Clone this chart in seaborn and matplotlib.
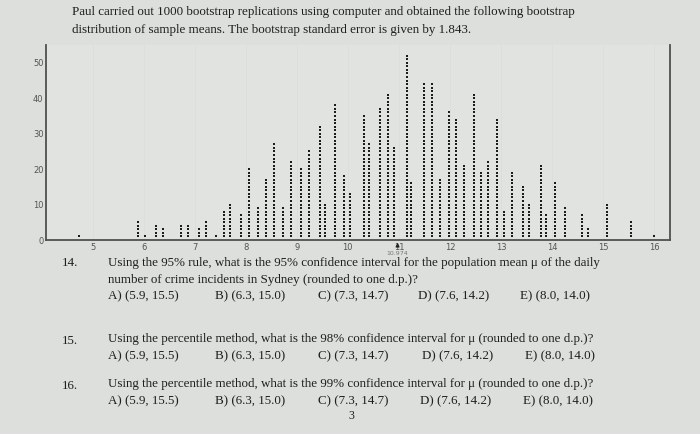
import pandas as pd
import matplotlib.pyplot as plt
import seaborn as sns

# dot plot columns: position of each stack and its number of dots
col_x = [4.73, 5.89, 6.02, 6.24, 6.38, 6.73, 6.87, 7.08, 7.22, 7.42,
         7.57, 7.70, 7.90, 8.06, 8.24, 8.39, 8.56, 8.72, 8.88, 9.08,
         9.24, 9.46, 9.55, 9.75, 9.92, 10.05, 10.31, 10.42, 10.63, 10.78,
         10.90, 11.16, 11.23, 11.50, 11.64, 11.80, 11.98, 12.11, 12.28, 12.47,
         12.61, 12.75, 12.92, 13.05, 13.22, 13.43, 13.54, 13.79, 13.89, 14.05,
         14.25, 14.58, 14.71, 15.07, 15.54, 16.0]
col_n = [1, 5, 1, 4, 3, 4, 4, 3, 5, 1,
         8, 10, 7, 20, 9, 17, 27, 9, 22, 20,
         25, 32, 10, 38, 18, 13, 35, 27, 37, 41,
         26, 52, 16, 44, 44, 17, 36, 34, 21, 41,
         19, 22, 34, 8, 19, 15, 10, 21, 7, 16,
         9, 7, 3, 10, 5, 1]

x_ticks = [5, 6, 7, 8, 9, 10, 11, 12, 13, 14, 15, 16]
y_ticks = [0, 10, 20, 30, 40, 50]
boot_mean = 10.974

title_lines = [
    "Paul carried out 1000 bootstrap replications using computer and obtained the following bootstrap",
    "distribution of sample means. The bootstrap standard error is given by 1.843.",
]
q_numbers = ["14.", "15.", "16."]
q_texts = [
    "Using the 95% rule, what is the 95% confidence interval for the population mean \u03bc of the daily",
    "Using the percentile method, what is the 98% confidence interval for \u03bc (rounded to one d.p.)?",
    "Using the percentile method, what is the 99% confidence interval for \u03bc (rounded to one d.p.)?",
]
q14_line2 = "number of crime incidents in Sydney (rounded to one d.p.)?"
choices = ["A) (5.9, 15.5)", "B) (6.3, 15.0)", "C) (7.3, 14.7)", "D) (7.6, 14.2)", "E) (8.0, 14.0)"]

# one row per dot
rows = []
for x, n in zip(col_x, col_n):
    for k in range(1, n + 1):
        rows.append({"x": x, "y": k})
dots = pd.DataFrame(rows)

sns.set_style("white")
bg = "#dcdfdb"
fig = plt.figure(figsize=(7, 4.34), dpi=100, facecolor=bg)
ax = fig.add_axes([0.066, 0.447, 0.891, 0.449])
ax.set_facecolor("#e0e3df")

sns.scatterplot(data=dots, x="x", y="y", marker="s", s=2.4, color="#1c1c1c",
                edgecolor=None, linewidth=0, ax=ax, legend=False)

ax.set_xlim(4.09, 16.31)
ax.set_ylim(0, 55)
ax.set_xticks(x_ticks)
ax.set_yticks(y_ticks)
ax.set_xlabel("")
ax.set_ylabel("")
ax.tick_params(axis="both", length=0, labelsize=6, labelcolor="#555555")
ax.tick_params(axis="x", pad=2)
ax.tick_params(axis="y", pad=2)
for t in x_ticks:
    ax.axvline(t, color="#dadDd9", lw=0.5, zorder=0)

ax.spines["top"].set_visible(False)
for side in ["left", "right", "bottom"]:
    ax.spines[side].set_color("#505050")
    ax.spines[side].set_linewidth(1.3)

# marker for the mean of the bootstrap distribution
ax.annotate("", xy=(boot_mean, 0), xytext=(boot_mean, -2.6),
            arrowprops=dict(arrowstyle="-|>", color="#222222", lw=0.9, mutation_scale=5),
            annotation_clip=False)
ax.text(boot_mean, -3.9, f"{boot_mean:.3f}", ha="center", va="center",
        fontsize=4.5, color="#777777", clip_on=False)

serif = "Liberation Serif"
W, H = 700, 434


def put(px, py, s, size=9.4, **kw):
    fig.text(px / W, 1 - py / H, s, fontsize=size, family=serif, color="#1e1e1e",
             va="center", **kw)


put(72, 12, title_lines[0], size=9.4)
put(72, 30, title_lines[1], size=9.4)

put(62, 263, q_numbers[0])
put(108, 263, q_texts[0])
put(108, 280, q14_line2)
for cx, c in zip([108, 215, 318, 418, 520], choices):
    put(cx, 296, c)

put(62, 341, q_numbers[1])
put(108, 339, q_texts[1])
for cx, c in zip([108, 215, 318, 422, 525], choices):
    put(cx, 356, c)

put(62, 386, q_numbers[2])
put(108, 384, q_texts[2])
for cx, c in zip([108, 215, 318, 420, 523], choices):
    put(cx, 401, c)

put(348, 416, "3", size=8.5)

fig.savefig("out.png", dpi=100, facecolor=bg)
